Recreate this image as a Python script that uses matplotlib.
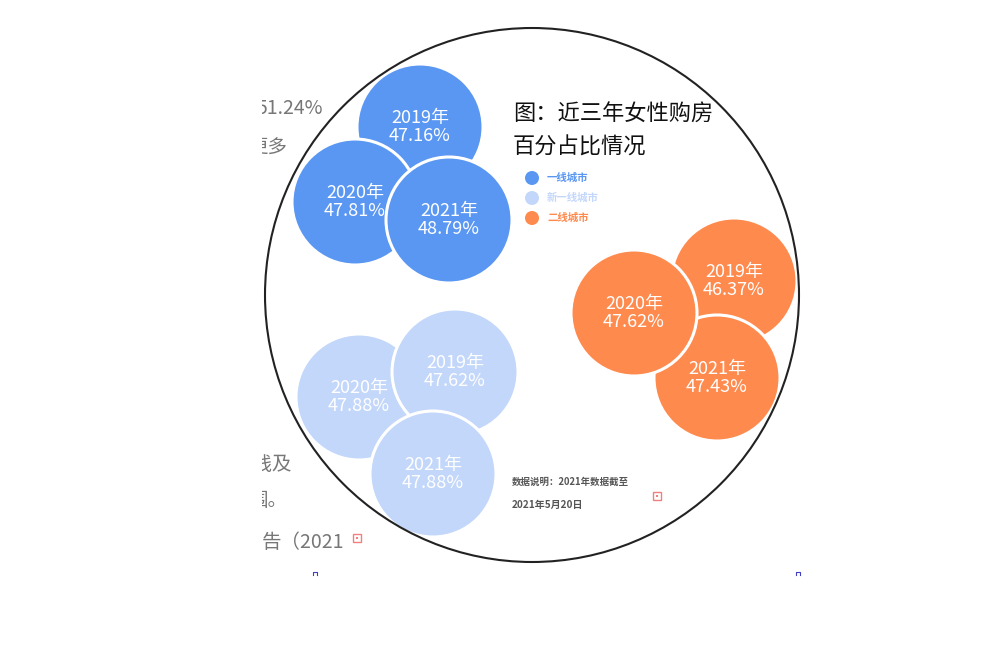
#! /usr/bin/env python3
# -*- coding: utf-8 -*-
"""bubble chart: share of female home buyers by city tier, 2019-2021"""

import matplotlib
matplotlib.use("Agg")
import matplotlib.pyplot as plt
from matplotlib.patches import Circle, Rectangle
from matplotlib.transforms import Bbox, TransformedBbox

plt.rcParams['font.family'] = ['Noto Sans CJK SC', 'DejaVu Sans']

# -----------------------------------------------------------------------------

# data
tiers  = ["一线城市", "新一线城市", "二线城市"]
years  = ["2019年", "2020年", "2021年"]
share_tier1    = [47.16, 47.81, 48.79]
share_newtier1 = [47.62, 47.88, 47.88]
share_tier2    = [46.37, 47.62, 47.43]

# layout (pixel coords) -- bubble centres per tier, order 2019/2020/2021
colors  = ["#5A97F2", "#C3D7FA", "#FF8A4E"]
centres = [
    [(420, 127), (355, 202), (449, 220)],
    [(455, 372), (359, 397), (433, 474)],
    [(734, 281), (634, 313), (717, 378)],
]
radius  = 63
# drawing order (index into years) so the overlaps look right
zorder  = [[0, 1, 2], [1, 0, 2], [0, 2, 1]]

# -----------------------------------------------------------------------------

fig = plt.figure(figsize=(9.82, 6.46), dpi=100)
ax = fig.add_axes([0, 0, 1, 1])
ax.set_xlim(0, 982)
ax.set_ylim(646, 0)
ax.set_aspect('equal')
ax.axis('off')

values = [share_tier1, share_newtier1, share_tier2]
for t in range(len(tiers)):
    for k, i in enumerate(zorder[t]):
        x, y = centres[t][i]
        ax.add_patch(Circle((x, y), radius, facecolor=colors[t],
                            edgecolor='white', lw=2.2, zorder=2 + k))
        ax.text(x, y, "{}\n{:.2f}%".format(years[i], values[t][i]),
                color='white', fontsize=13, ha='center', va='center',
                linespacing=0.95, zorder=2 + k)

# outer ring
ax.add_patch(Circle((532, 295), 267, fill=False, edgecolor='#222222',
                    lw=1.5, zorder=10))

# title
ax.text(513, 113, "图：近三年女性购房", fontsize=16, color='#111111',
        va='center', ha='left')
ax.text(513, 147, "百分占比情况", fontsize=16, color='#111111',
        va='center', ha='left')

# legend
for j, name in enumerate(tiers):
    yy = 178 + 20 * j
    ax.add_patch(Circle((532, yy), 7, facecolor=colors[j], edgecolor='none'))
    ax.text(547, yy, name, fontsize=7.5, color=colors[j], va='center',
            ha='left', fontweight='bold')

# note
ax.text(512, 482, "数据说明：2021年数据截至", fontsize=6.8, color='#555555',
        va='center', ha='left', fontweight='bold')
ax.text(512, 505, "2021年5月20日", fontsize=7.2, color='#555555',
        va='center', ha='left', fontweight='bold')

# clipped leftovers from the surrounding page
clip = TransformedBbox(Bbox([[262, 0], [982, 646]]), ax.transData)
bits = [(257, 108, "51.24%"), (248, 148, "更多"), (233, 464, "城线及"),
        (248, 501, "围。"), (262, 542, "告（2021")]
for bx, by, s in bits:
    t = ax.text(bx, by, s, fontsize=14, color='#777777', va='center',
                ha='left')
    t.set_clip_on(True)
    t.set_clip_box(clip)

# small page markers
for mx, my in [(357, 538), (657, 496)]:
    ax.add_patch(Rectangle((mx - 4, my - 4), 8, 8, fill=False,
                           edgecolor='#f08080', lw=1))
    ax.add_patch(Rectangle((mx - 1, my - 1), 2, 2, facecolor='#f08080',
                           edgecolor='none'))
for mx, my in [(315, 573), (798, 573)]:
    ax.plot([mx - 2, mx - 2, mx + 2, mx + 2], [575, my - 1, my - 1, 575],
            color='#4040c0', lw=0.8)

fig.savefig("out.png", dpi=100)
